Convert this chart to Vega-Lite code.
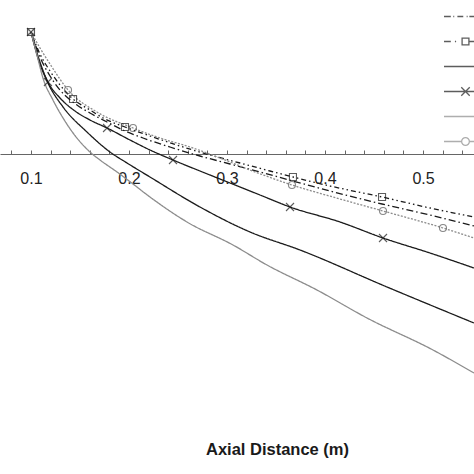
{
  "$schema": "https://vega.github.io/schema/vega-lite/v6.json",
  "width": 474,
  "height": 474,
  "autosize": {"type": "none"},
  "padding": 0,
  "background": "white",
  "config": {"view": {"stroke": null}},
  "resolve": {"axis": {"x": "independent"}},
  "datasets": {
    "curves": [
      {"series": "Model 1", "x": 0.1, "y": 1.22},
      {"series": "Model 1", "x": 0.1092, "y": 0.97},
      {"series": "Model 1", "x": 0.1194, "y": 0.78},
      {"series": "Model 1", "x": 0.1296, "y": 0.64},
      {"series": "Model 1", "x": 0.1469, "y": 0.49},
      {"series": "Model 1", "x": 0.1602, "y": 0.41},
      {"series": "Model 1", "x": 0.1776, "y": 0.32},
      {"series": "Model 1", "x": 0.1959, "y": 0.23},
      {"series": "Model 1", "x": 0.2143, "y": 0.16},
      {"series": "Model 1", "x": 0.2418, "y": 0.07},
      {"series": "Model 1", "x": 0.2724, "y": -0.02},
      {"series": "Model 1", "x": 0.3031, "y": -0.10},
      {"series": "Model 1", "x": 0.3337, "y": -0.18},
      {"series": "Model 1", "x": 0.3673, "y": -0.27},
      {"series": "Model 1", "x": 0.4051, "y": -0.37},
      {"series": "Model 1", "x": 0.4582, "y": -0.50},
      {"series": "Model 1", "x": 0.5071, "y": -0.61},
      {"series": "Model 1", "x": 0.552, "y": -0.72},

      {"series": "Data 1", "x": 0.1, "y": 1.22},
      {"series": "Data 1", "x": 0.1092, "y": 1.00},
      {"series": "Data 1", "x": 0.1194, "y": 0.83},
      {"series": "Data 1", "x": 0.1296, "y": 0.69},
      {"series": "Data 1", "x": 0.1429, "y": 0.55},
      {"series": "Data 1", "x": 0.1602, "y": 0.44},
      {"series": "Data 1", "x": 0.1755, "y": 0.35},
      {"series": "Data 1", "x": 0.1959, "y": 0.27},
      {"series": "Data 1", "x": 0.2214, "y": 0.18},
      {"series": "Data 1", "x": 0.252, "y": 0.08},
      {"series": "Data 1", "x": 0.2827, "y": -0.01},
      {"series": "Data 1", "x": 0.3133, "y": -0.09},
      {"series": "Data 1", "x": 0.3439, "y": -0.17},
      {"series": "Data 1", "x": 0.3673, "y": -0.23},
      {"series": "Data 1", "x": 0.4051, "y": -0.32},
      {"series": "Data 1", "x": 0.4582, "y": -0.43},
      {"series": "Data 1", "x": 0.5071, "y": -0.54},
      {"series": "Data 1", "x": 0.552, "y": -0.63},

      {"series": "Model 2", "x": 0.1, "y": 1.22},
      {"series": "Model 2", "x": 0.1071, "y": 0.96},
      {"series": "Model 2", "x": 0.1173, "y": 0.71},
      {"series": "Model 2", "x": 0.1327, "y": 0.47},
      {"series": "Model 2", "x": 0.1571, "y": 0.22},
      {"series": "Model 2", "x": 0.1806, "y": 0.02},
      {"series": "Model 2", "x": 0.198, "y": -0.09},
      {"series": "Model 2", "x": 0.2214, "y": -0.23},
      {"series": "Model 2", "x": 0.2724, "y": -0.53},
      {"series": "Model 2", "x": 0.3235, "y": -0.78},
      {"series": "Model 2", "x": 0.3745, "y": -0.96},
      {"series": "Model 2", "x": 0.4633, "y": -1.33},
      {"series": "Model 2", "x": 0.552, "y": -1.69},

      {"series": "Data 2", "x": 0.1, "y": 1.22},
      {"series": "Data 2", "x": 0.1071, "y": 0.98},
      {"series": "Data 2", "x": 0.1173, "y": 0.72},
      {"series": "Data 2", "x": 0.1296, "y": 0.56},
      {"series": "Data 2", "x": 0.1449, "y": 0.43},
      {"series": "Data 2", "x": 0.1602, "y": 0.34},
      {"series": "Data 2", "x": 0.1776, "y": 0.26},
      {"series": "Data 2", "x": 0.201, "y": 0.14},
      {"series": "Data 2", "x": 0.2214, "y": 0.04},
      {"series": "Data 2", "x": 0.2449, "y": -0.06},
      {"series": "Data 2", "x": 0.2724, "y": -0.17},
      {"series": "Data 2", "x": 0.3031, "y": -0.29},
      {"series": "Data 2", "x": 0.3337, "y": -0.41},
      {"series": "Data 2", "x": 0.3643, "y": -0.53},
      {"series": "Data 2", "x": 0.4153, "y": -0.68},
      {"series": "Data 2", "x": 0.4592, "y": -0.84},
      {"series": "Data 2", "x": 0.5071, "y": -0.99},
      {"series": "Data 2", "x": 0.552, "y": -1.14},

      {"series": "Model 3", "x": 0.1, "y": 1.22},
      {"series": "Model 3", "x": 0.1061, "y": 0.99},
      {"series": "Model 3", "x": 0.1122, "y": 0.76},
      {"series": "Model 3", "x": 0.1224, "y": 0.54},
      {"series": "Model 3", "x": 0.1327, "y": 0.36},
      {"series": "Model 3", "x": 0.1429, "y": 0.21},
      {"series": "Model 3", "x": 0.1602, "y": 0.02},
      {"series": "Model 3", "x": 0.1704, "y": -0.06},
      {"series": "Model 3", "x": 0.1878, "y": -0.18},
      {"series": "Model 3", "x": 0.2041, "y": -0.30},
      {"series": "Model 3", "x": 0.2214, "y": -0.43},
      {"series": "Model 3", "x": 0.2592, "y": -0.68},
      {"series": "Model 3", "x": 0.3061, "y": -0.91},
      {"series": "Model 3", "x": 0.3408, "y": -1.11},
      {"series": "Model 3", "x": 0.3918, "y": -1.36},
      {"series": "Model 3", "x": 0.4429, "y": -1.64},
      {"series": "Model 3", "x": 0.5102, "y": -1.96},
      {"series": "Model 3", "x": 0.552, "y": -2.19},

      {"series": "Data 3", "x": 0.1, "y": 1.22},
      {"series": "Data 3", "x": 0.1092, "y": 1.06},
      {"series": "Data 3", "x": 0.1194, "y": 0.90},
      {"series": "Data 3", "x": 0.1378, "y": 0.64},
      {"series": "Data 3", "x": 0.1673, "y": 0.42},
      {"series": "Data 3", "x": 0.2041, "y": 0.26},
      {"series": "Data 3", "x": 0.2316, "y": 0.16},
      {"series": "Data 3", "x": 0.2622, "y": 0.07},
      {"series": "Data 3", "x": 0.2929, "y": -0.04},
      {"series": "Data 3", "x": 0.3235, "y": -0.16},
      {"series": "Data 3", "x": 0.3663, "y": -0.31},
      {"series": "Data 3", "x": 0.4153, "y": -0.45},
      {"series": "Data 3", "x": 0.4592, "y": -0.57},
      {"series": "Data 3", "x": 0.5204, "y": -0.74},
      {"series": "Data 3", "x": 0.552, "y": -0.84}
    ],
    "markers": [
      {"series": "Data 1", "x": 0.1, "y": 1.22},
      {"series": "Data 1", "x": 0.1429, "y": 0.55},
      {"series": "Data 1", "x": 0.1959, "y": 0.27},
      {"series": "Data 1", "x": 0.3673, "y": -0.23},
      {"series": "Data 1", "x": 0.4582, "y": -0.43},
      {"series": "Data 2", "x": 0.1, "y": 1.22},
      {"series": "Data 2", "x": 0.1173, "y": 0.72},
      {"series": "Data 2", "x": 0.1776, "y": 0.26},
      {"series": "Data 2", "x": 0.2449, "y": -0.06},
      {"series": "Data 2", "x": 0.3643, "y": -0.53},
      {"series": "Data 2", "x": 0.4592, "y": -0.84},
      {"series": "Data 3", "x": 0.1, "y": 1.22},
      {"series": "Data 3", "x": 0.1378, "y": 0.64},
      {"series": "Data 3", "x": 0.2041, "y": 0.26},
      {"series": "Data 3", "x": 0.3663, "y": -0.31},
      {"series": "Data 3", "x": 0.4592, "y": -0.57},
      {"series": "Data 3", "x": 0.5204, "y": -0.74}
    ],
    "legendItems": [
      {"series": "Model 1"}, {"series": "Data 1"}, {"series": "Model 2"},
      {"series": "Data 2"}, {"series": "Model 3"}, {"series": "Data 3"}
    ]
  },
  "layer": [
    {
      "data": {"name": "curves"},
      "mark": {"type": "line", "interpolate": "monotone", "clip": true, "strokeWidth": 1.3},
      "encoding": {
        "x": {
          "field": "x", "type": "quantitative",
          "scale": {"domain": [0.06837, 0.55204], "nice": false, "zero": false},
          "axis": {
            "orient": "bottom",
            "offset": -320,
            "values": [0.1, 0.2, 0.3, 0.4, 0.5],
            "format": ".1f",
            "grid": false,
            "tickSize": -4,
            "tickColor": "#666666",
            "domainColor": "#666666",
            "domainWidth": 1,
            "labelPadding": 20,
            "labelFont": "Liberation Sans",
            "labelFontSize": 16,
            "labelColor": "#222222",
            "labelFlush": false,
            "labelOverlap": false,
            "title": "Axial Distance (m)",
            "titleFont": "Liberation Sans",
            "titleFontSize": 16.5,
            "titleFontWeight": "bold",
            "titleColor": "#1a1a1a",
            "titleX": 277,
            "titleY": 300,
            "titleAlign": "center",
            "titleBaseline": "alphabetic"
          }
        },
        "y": {
          "field": "y", "type": "quantitative",
          "scale": {"domain": [-3.2, 1.54], "nice": false, "zero": false},
          "axis": null
        },
        "color": {
          "field": "series", "type": "nominal",
          "scale": {
            "range": ["#1a1a1a", "#1a1a1a", "#8c8c8c", "#1a1a1a", "#1a1a1a", "#8c8c8c"]
          },
          "legend": null
        },
        "strokeDash": {
          "field": "series", "type": "nominal",
          "scale": {
            "range": [[5, 3, 1.5, 3, 1.5, 3], [1, 0], [2, 1.5], [7, 3, 1.5, 3], [1, 0], [1, 0]]
          },
          "legend": null
        }
      }
    },
    {
      "data": {"name": "markers"},
      "transform": [{"filter": "datum.series === 'Data 1'"}],
      "mark": {"type": "point", "shape": "square", "size": 49, "filled": false, "stroke": "#1a1a1a", "strokeWidth": 1.1},
      "encoding": {
        "x": {
          "field": "x", "type": "quantitative",
          "axis": {
            "orient": "bottom",
            "offset": -320,
            "values": [0.08, 0.12, 0.14, 0.16, 0.18, 0.22, 0.24, 0.26, 0.28, 0.32, 0.34, 0.36, 0.38, 0.42, 0.44, 0.46, 0.48, 0.52, 0.54],
            "labels": false,
            "domain": false,
            "grid": false,
            "title": null,
            "tickSize": -4,
            "tickColor": "#666666"
          }
        },
        "y": {"field": "y", "type": "quantitative"}
      }
    },
    {
      "data": {"name": "markers"},
      "transform": [{"filter": "datum.series === 'Data 2'"}],
      "mark": {"type": "point", "shape": "M-1,-1L1,1M-1,1L1,-1", "size": 64, "filled": false, "stroke": "#1a1a1a", "strokeWidth": 1.1},
      "encoding": {
        "x": {"field": "x", "type": "quantitative", "axis": null},
        "y": {"field": "y", "type": "quantitative"}
      }
    },
    {
      "data": {"name": "markers"},
      "transform": [{"filter": "datum.series === 'Data 3'"}],
      "mark": {"type": "point", "shape": "circle", "size": 49, "filled": false, "stroke": "#555555", "strokeWidth": 1.1},
      "encoding": {
        "x": {"field": "x", "type": "quantitative", "axis": null},
        "y": {"field": "y", "type": "quantitative"}
      }
    },
    {
      "data": {"name": "legendItems"},
      "mark": {"type": "point", "filled": false},
      "encoding": {
        "x": {"value": -100},
        "y": {"value": -100},
        "shape": {
          "field": "series", "type": "nominal",
          "scale": {
            "domain": ["Model 1", "Data 1", "Model 2", "Data 2", "Model 3", "Data 3"],
            "range": [
              "M-1.83,0H-1.25M-1.04,0H-0.96M-0.69,0H-0.19M0.1,0H0.18M0.33,0H0.83M1.1,0H1.18M1.33,0H1.83",
              "M-1.83,0H-1.25M-0.9,0H-0.8M-0.29,-0.29H0.29V0.29H-0.29ZM0.29,0H1.83",
              "M-1.83,0H1.83",
              "M-1.83,0H1.83M-0.36,-0.36L0.36,0.36M-0.36,0.36L0.36,-0.36",
              "M-1.83,0H1.83",
              "M-1.83,0H-0.33M-0.33,0A0.33,0.33 0 1,0 0.33,0A0.33,0.33 0 1,0 -0.33,0M0.33,0H1.83"
            ]
          },
          "legend": {
            "orient": "none",
            "legendX": 453,
            "legendY": 4,
            "title": null,
            "padding": 0,
            "rowPadding": 5,
            "symbolSize": 552,
            "symbolStrokeWidth": 1.3,
            "labelFont": "Liberation Sans",
            "labelFontSize": 14,
            "labelOffset": 6
          }
        },
        "stroke": {
          "field": "series", "type": "nominal",
          "scale": {
            "domain": ["Model 1", "Data 1", "Model 2", "Data 2", "Model 3", "Data 3"],
            "range": ["#1a1a1a", "#1a1a1a", "#1a1a1a", "#1a1a1a", "#8c8c8c", "#8c8c8c"]
          },
          "legend": {
            "orient": "none",
            "legendX": 453,
            "legendY": 4,
            "title": null,
            "padding": 0,
            "rowPadding": 5,
            "symbolSize": 552,
            "symbolStrokeWidth": 1.3,
            "labelFont": "Liberation Sans",
            "labelFontSize": 14,
            "labelOffset": 6
          }
        }
      }
    }
  ]
}
